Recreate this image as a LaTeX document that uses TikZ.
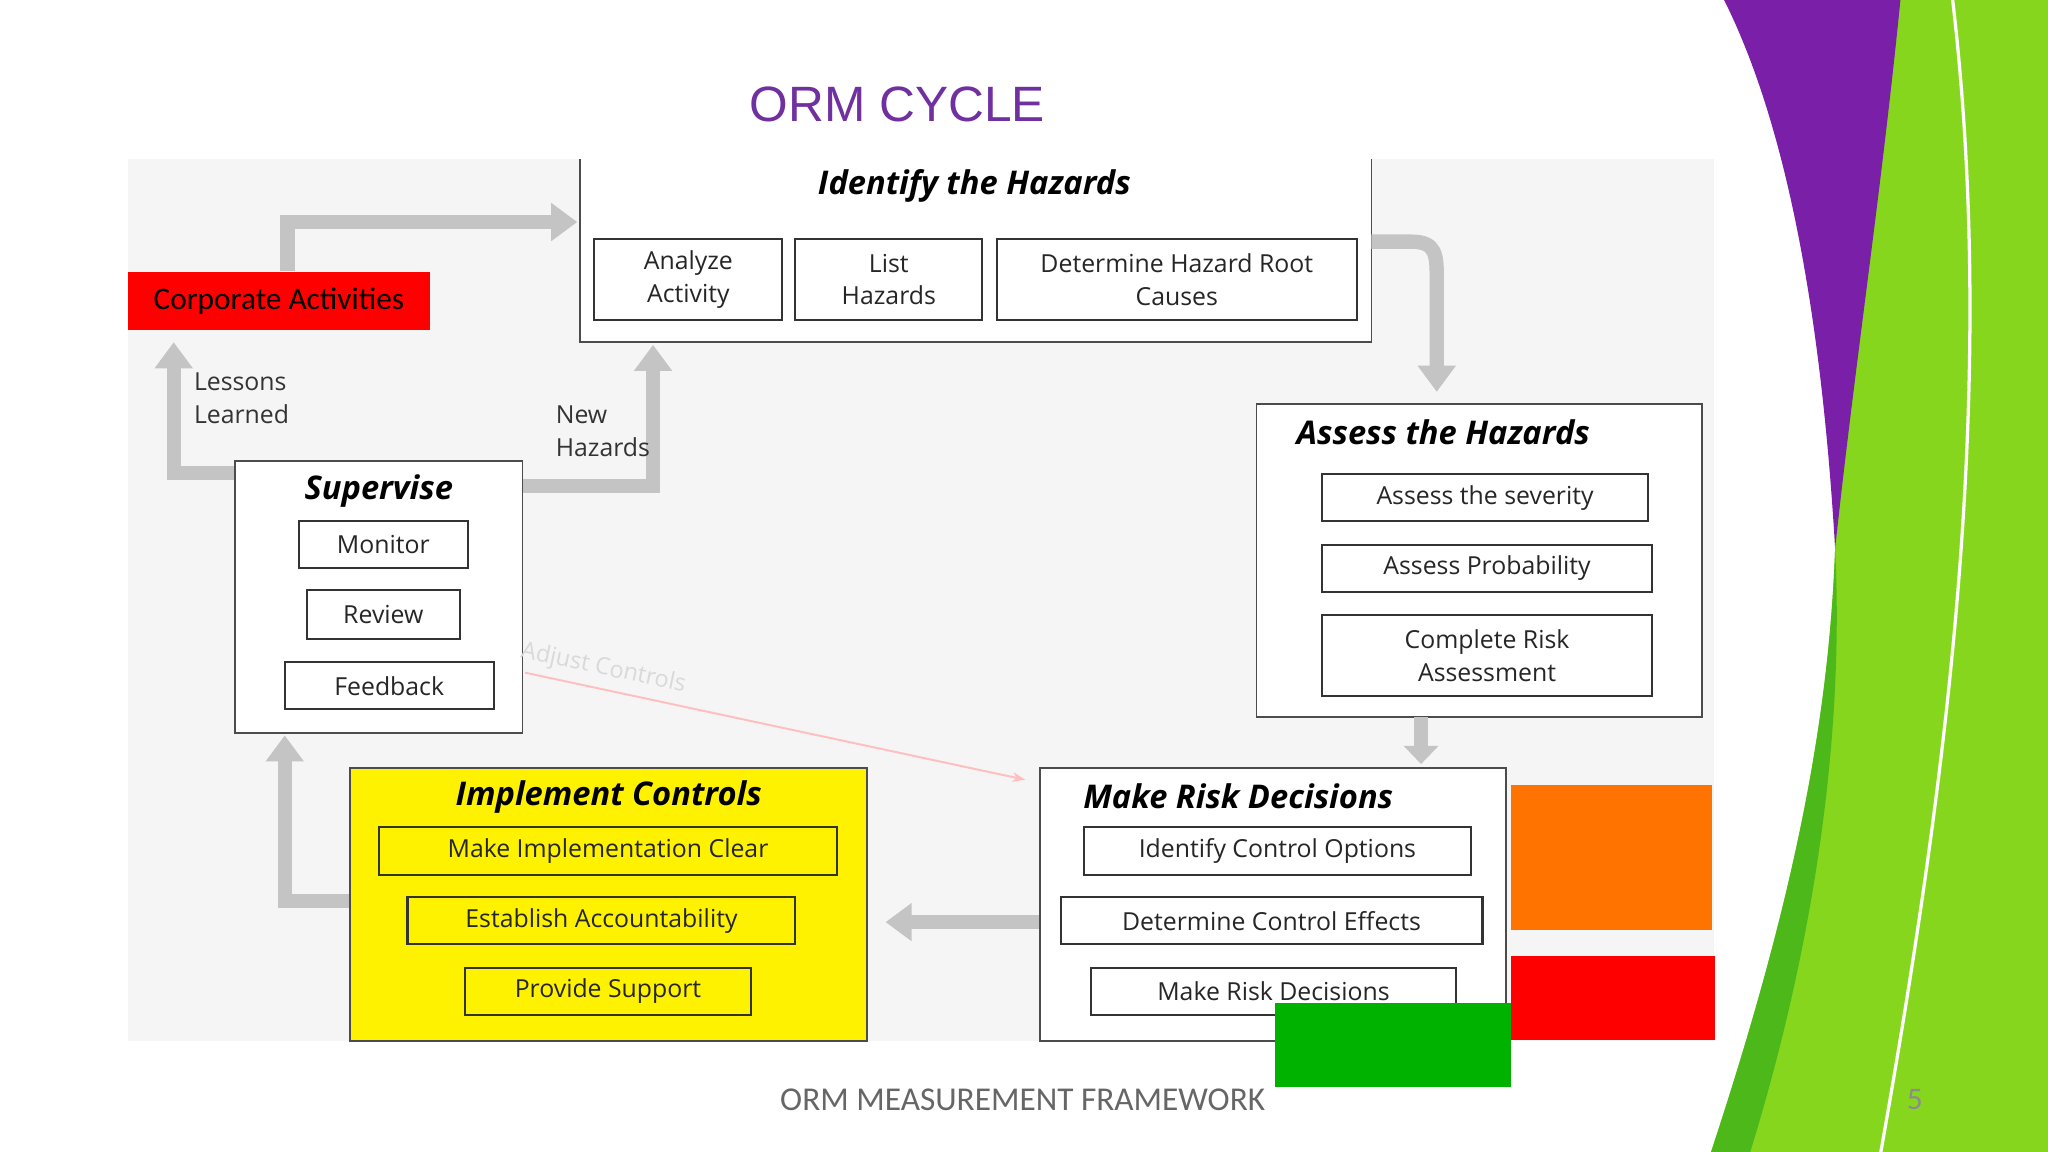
\documentclass[tikz,border=0pt]{standalone}
\usepackage{fontspec}
\setmainfont{Carlito}
\newfontfamily\arialf{Liberation Sans}
\newfontfamily\opens{Open Sans}
\usetikzlibrary{arrows.meta}
\definecolor{arr}{HTML}{C4C4C4}
\definecolor{orm}{HTML}{7030A0}
\definecolor{lgreen}{HTML}{86D61E}
\definecolor{dgreen}{HTML}{4CB81A}
\definecolor{purp}{HTML}{7A1FA8}
\begin{document}
\begin{tikzpicture}[x=1pt,y=-1pt,
 sub/.style={draw=black!80,line width=1.6pt,fill=white,align=center,font=\opens\fontsize{19}{25}\selectfont,text=black!85,inner sep=0pt},
 big/.style={draw=black!70,line width=1.4pt},
 ttl/.style={font=\opens\fontsize{25}{30}\selectfont\bfseries\itshape},
 ga/.style={draw=arr,line width=11pt,-{Triangle[length=20pt,width=28pt]}},
 lbl/.style={font=\opens\fontsize{19}{25}\selectfont,align=left,text=black!80}]
\useasboundingbox (0,0) rectangle (1568,882);
\fill[white] (0,0) rectangle (1568,882);
% right decoration
\fill[lgreen] (1450,0) -- (1568,0) -- (1568,882) -- (1310,882) .. controls (1370,700) and (1400,560) .. (1405,420) .. controls (1420,250) and (1445,120) .. (1450,0);
\fill[dgreen] (1405,420) .. controls (1400,560) and (1370,700) .. (1310,882) -- (1340,882) .. controls (1390,720) and (1412,560) .. (1405,420) -- cycle;
\fill[purp] (1320,0) -- (1455,0) .. controls (1440,150) and (1420,280) .. (1405,420) .. controls (1395,250) and (1370,100) .. (1320,0);
\draw[white,line width=2.5pt] (1495,0) .. controls (1530,300) and (1490,600) .. (1440,882);
% diagram area
\fill[black!4] (98,122) rectangle (1312,797);
\node[font=\arialf\fontsize{38}{40}\selectfont,text=orm] (title) at (687,80) {ORM CYCLE};
% Identify
\fill[white] (444,122) rectangle (1050,262);
\draw[big] (444,122) -- (444,262) -- (1050,262) -- (1050,122);
\coordinate (idtr) at (1050,122);
\node[ttl] (idt) at (746,142) {Identify the Hazards};
\node[sub,minimum width=144pt,minimum height=62pt] (aa) at (527,214) {Analyze\\Activity};
\node[sub,minimum width=143pt,minimum height=62pt] (lh) at (680.5,214) {List\\Hazards};
\node[sub,minimum width=276pt,minimum height=62pt] (dh) at (901,214) {Determine Hazard Root\\Causes};
% Assess
\node[big,fill=white,minimum width=341pt,minimum height=240pt] (as) at (1132.5,429) {};
\node[ttl] at (1105,331) {Assess the Hazards};
\node[sub,minimum width=250pt,minimum height=36pt] (s1) at (1137,381) {Assess the severity};
\node[sub,minimum width=253pt,minimum height=36pt] (s2) at (1138.5,435) {Assess Probability};
\node[sub,minimum width=253pt,minimum height=62pt] (s3) at (1138.5,502) {Complete Risk\\Assessment};
% Make risk
\node[big,fill=white,minimum width=357pt,minimum height=209pt] (mr) at (974.5,692.5) {};
\node[ttl] at (948,610) {Make Risk Decisions};
\node[sub,minimum width=296pt,minimum height=37pt] (m1) at (978,651.5) {Identify Control Options};
\node[sub,minimum width=323pt,minimum height=36pt] (m2) at (973.5,705) {Determine Control Effects};
\node[sub,minimum width=280pt,minimum height=36pt] (m3) at (975,759) {Make Risk Decisions};
% Implement
\node[big,fill=yellow,minimum width=396pt,minimum height=209pt] (im) at (466,692.5) {};
\node[ttl] at (466,610) {Implement Controls};
\node[sub,fill=yellow,minimum width=351pt,minimum height=37pt] (i1) at (465.5,651.5) {Make Implementation Clear};
\node[sub,fill=yellow,minimum width=297pt,minimum height=36pt] (i2) at (460.5,705) {Establish Accountability};
\node[sub,fill=yellow,minimum width=219pt,minimum height=36pt] (i3) at (465.5,759) {Provide Support};
% Supervise
\node[big,fill=white,minimum width=220pt,minimum height=208pt] (sv) at (290,457) {};
\node[ttl] at (290,376) {Supervise};
\node[sub,minimum width=129pt,minimum height=36pt] (v1) at (293.5,417) {Monitor};
\node[sub,minimum width=117pt,minimum height=37pt] (v2) at (293.5,470.5) {Review};
\node[sub,minimum width=160pt,minimum height=36pt] (v3) at (298,525) {Feedback};
% Corporate
\node[fill=red,minimum width=231pt,minimum height=45pt,font=\fontsize{24}{26}\selectfont,inner sep=0pt] (ca) at (213.5,230.5) {Corporate Activities};
% arrows
\coordinate (c1) at (220,170); \coordinate (c1e) at (442,170);
\draw[ga] (ca.north -| c1) -- (c1) -- (c1e);
\coordinate (c2a) at (1090,185); \coordinate (c2b) at (1100,300);
\draw[ga] (idtr |- c2a) -- (1080,185) .. controls (1100,185) and (1100,195) .. (1100,215) -- (c2b);
\draw[ga,-{Triangle[length=14pt,width=26pt]}] (1088,549) -- (1088,585);
\coordinate (c3) at (678,706);
\draw[ga] (mr.west |- c3) -- (c3);
\coordinate (c4) at (218,690);\coordinate (c4e) at (218,563);
\draw[ga] (im.west |- c4) -- (c4) -- (c4e);
\coordinate (c5) at (133,362);\coordinate (c5e) at (133,262);
\draw[ga] (sv.west |- c5) -- (c5) -- (c5e);
\coordinate (c6) at (500,372);\coordinate (c6e) at (500,264);
\draw[ga] (sv.east |- c6) -- (c6) -- (c6e);
\coordinate (c7) at (402,515);\coordinate (c7e) at (785,597);
\draw[red!25,line width=1.5pt,-{Stealth[length=10pt]}] (c7) -- (c7e);
\node[rotate=-12,font=\opens\fontsize{18}{24}\selectfont,text=black!15] (adj) at (462,512) {Adjust Controls};
\node[lbl,anchor=west] (ll) at (145,305) {Lessons\\Learned};
\node[lbl,anchor=west] (nh) at (422,330) {New\\Hazards};
% colored rects
\fill[orange!90!red] (1157,601) rectangle (1311,712);
\fill[red] (1157,732) rectangle (1313,796);
\fill[green!70!black] (976,768) rectangle (1157,832);
\node[font=\fontsize{25.5}{28}\selectfont,text=black!60] (ft) at (783,842) {ORM MEASUREMENT FRAMEWORK};
\node[font=\fontsize{24}{26}\selectfont,text=black!45] (pg) at (1466,842) {5};
\end{tikzpicture}
\end{document}
